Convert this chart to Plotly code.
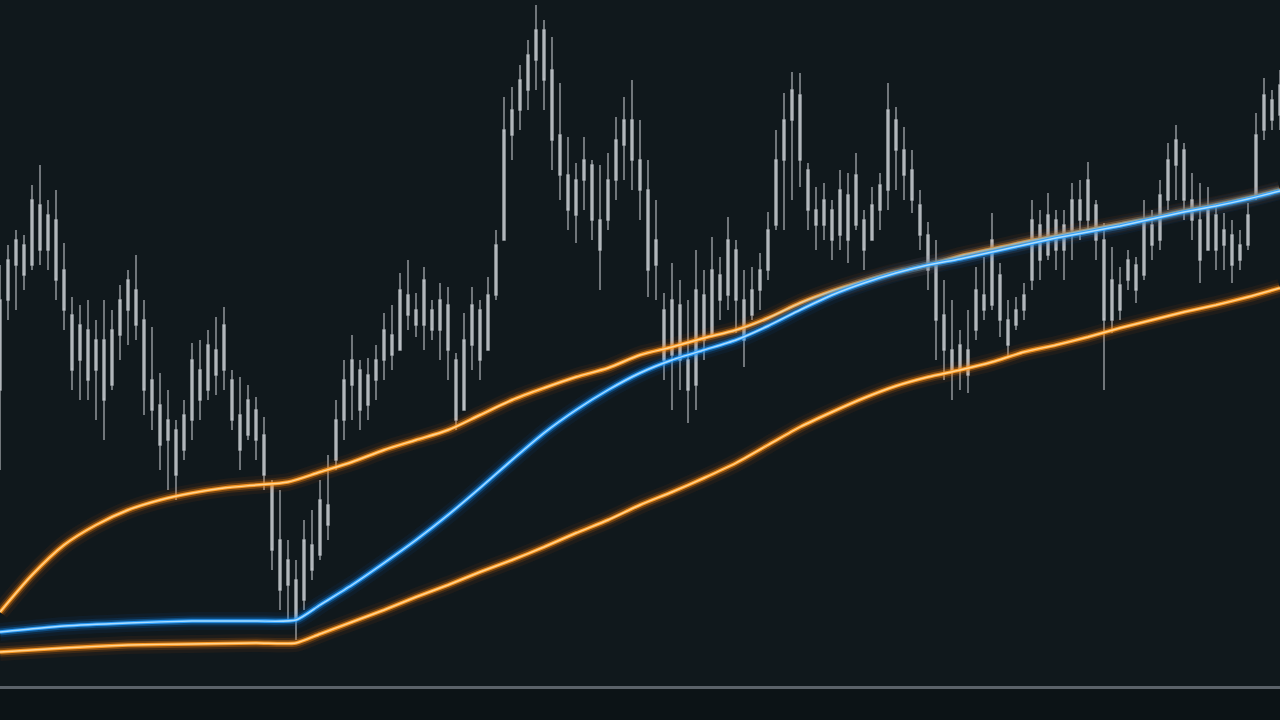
import plotly.graph_objects as go

# ---- candle data (index = bar number, prices in chart units) ----
highs = [455,475,490,485,535,555,520,530,477,423,415,420,400,420,410,435,450,465,420,393,
         347,330,300,320,377,380,390,403,413,350,343,335,323,303,240,230,180,160,200,210,
         240,265,320,360,385,360,362,375,407,415,447,460,427,453,420,437,433,367,407,433,
         420,443,490,623,633,655,680,715,700,683,637,583,557,583,560,555,567,603,623,640,
         600,560,520,427,457,440,420,470,450,483,463,503,480,450,453,467,508,590,627,648,
         647,557,533,537,520,550,547,567,510,533,547,637,613,593,570,530,498,480,440,420,
         390,410,453,463,507,457,420,423,437,520,510,527,510,510,537,540,558,520,497,473,
         453,470,463,520,510,540,577,595,577,547,537,533,517,507,500,490,517,607,642,630,
         650]
lows = [250,400,410,430,450,455,450,420,390,330,320,320,300,280,330,360,375,380,305,290,
        250,230,220,260,280,300,320,325,330,290,250,280,260,230,150,110,100,80,110,140,
        160,180,250,280,300,290,300,320,340,350,380,390,383,370,380,360,340,290,320,350,
        340,370,420,480,560,590,610,630,610,550,520,490,477,510,480,430,490,520,540,530,
        500,423,420,340,310,330,297,310,360,390,400,410,387,353,400,410,440,490,490,520,
        533,490,470,480,460,470,457,490,450,480,490,510,530,520,507,470,430,360,340,320,
        330,327,380,400,410,383,363,390,400,430,440,460,450,440,460,480,490,460,330,387,
        400,430,417,440,460,470,510,520,500,480,437,470,450,450,437,450,470,520,580,590,
        590]
opens = [330,420,455,475,455,515,470,500,450,405,360,390,350,380,335,385,410,430,400,340,
         315,280,290,270,300,350,330,370,350,340,305,285,310,285,235,180,135,140,120,175,
         165,215,260,300,335,350,315,340,360,385,370,425,410,395,410,390,415,360,310,375,
         410,370,425,480,585,610,630,660,690,650,585,545,505,540,555,500,500,540,575,600,
         560,530,455,410,365,415,360,335,425,385,445,425,470,420,405,430,450,495,560,600,
         625,550,510,495,510,485,525,495,500,480,510,530,600,570,550,515,485,455,405,370,
         350,370,390,425,415,445,400,395,410,440,495,465,500,470,490,520,500,515,480,400,
         435,440,455,445,495,480,520,555,570,520,500,470,505,475,485,460,475,525,590,620,
         605]
closes = [420,460,480,445,520,470,505,440,410,350,395,340,380,320,390,420,440,395,330,310,
          275,300,245,305,360,320,375,345,395,300,270,320,280,245,170,130,160,100,180,150,
          220,195,300,340,360,310,345,360,390,365,430,405,395,440,390,420,370,300,380,415,
          360,425,475,590,610,640,665,690,640,580,545,510,540,560,500,470,540,580,600,560,
          530,450,480,360,420,360,330,430,380,450,420,480,420,380,430,450,490,560,600,630,
          560,510,495,520,480,530,480,545,470,515,535,610,570,545,520,485,450,400,370,350,
          375,345,430,410,480,400,375,410,425,500,460,505,470,495,520,500,540,480,400,440,
          410,460,430,500,475,525,560,580,520,500,460,510,470,490,455,475,505,585,625,600,
          635]
bar_index = list(range(len(highs)))

# ---- moving-average style lines ----
upper_x = [0,4,8,12,16,20,24,28,32,36,40,44,48,52,56,60,64,68,72,76,80,84,88,92,96,100,
           104,108,112,116,120,124,128,132,136,140,144,148,152,156,160]
upper_y = [108,145,175,195,210,220,227,232,235,238,248,258,270,280,290,305,320,332,343,352,
           365,373,382,390,402,417,429,439,448,455,464,471,478,484,490,496,502,509,515,522,530]

mid_x = [0,8,16,24,32,37,40,44,48,52,56,60,64,68,72,76,80,84,88,92,96,100,104,108,112,116,
         120,124,128,132,136,140,144,148,152,156,160]
mid_y = [88,94,97,99,99,100,115,135,157,180,205,232,260,287,310,330,347,360,370,380,394,410,
         425,437,447,455,461,468,475,482,488,494,501,508,514,521,529]

lower_x = [0,8,16,24,32,37,40,44,48,52,56,60,64,68,72,76,80,84,88,92,96,100,104,108,112,116,
           120,124,128,132,136,140,144,148,152,156,160]
lower_y = [68,72,75,76,77,77,86,98,110,123,135,148,160,173,187,200,215,228,242,257,275,293,
           308,322,334,343,350,358,368,375,383,392,400,408,415,423,432]

fig = go.Figure()

candle_col = "rgba(190,195,200,0.85)"
fig.add_trace(go.Candlestick(
    x=bar_index, open=opens, high=highs, low=lows, close=closes,
    increasing=dict(line=dict(color=candle_col, width=1.3), fillcolor=candle_col),
    decreasing=dict(line=dict(color=candle_col, width=1.3), fillcolor=candle_col),
    whiskerwidth=0, hoverinfo="skip", showlegend=False))


def glow_line(xs, ys, layers, shape="spline", smoothing=0.8):
    for width, color in layers:
        fig.add_trace(go.Scatter(
            x=xs, y=ys, mode="lines",
            line=dict(color=color, width=width, shape=shape, smoothing=smoothing),
            hoverinfo="skip", showlegend=False))


orange_layers = [(18, "rgba(255,110,0,0.06)"), (11, "rgba(255,120,0,0.13)"),
                 (7, "rgba(255,135,10,0.32)"), (3.6, "rgba(255,155,35,0.95)"),
                 (1.4, "rgba(255,220,160,0.9)")]
blue_layers = [(18, "rgba(0,120,255,0.06)"), (11, "rgba(0,130,255,0.13)"),
               (7, "rgba(20,150,255,0.32)"), (3.6, "rgba(45,160,255,0.95)"),
               (1.4, "rgba(185,228,255,0.9)")]

glow_line(lower_x, lower_y, orange_layers, smoothing=0.6)
glow_line(upper_x, upper_y, orange_layers, smoothing=0.8)
glow_line(mid_x, mid_y, blue_layers, smoothing=0.6)

bg = "#10181c"
fig.update_layout(
    width=1280, height=720,
    margin=dict(l=0, r=0, t=0, b=34),
    paper_bgcolor="#0c1316", plot_bgcolor=bg,
    showlegend=False, hovermode=False,
    boxgap=0.62,
    xaxis=dict(range=[0, 160], showgrid=False, zeroline=False, showticklabels=False,
               rangeslider=dict(visible=False), showline=True, linecolor="#5b6269",
               linewidth=3, fixedrange=True),
    yaxis=dict(range=[34, 720], showgrid=False, zeroline=False, showticklabels=False,
               fixedrange=True),
)

fig.write_html(
    "out.html",
    config={"displayModeBar": False},
    post_script="document.body.style.margin='0';document.body.style.background='#0c1316';",
)
